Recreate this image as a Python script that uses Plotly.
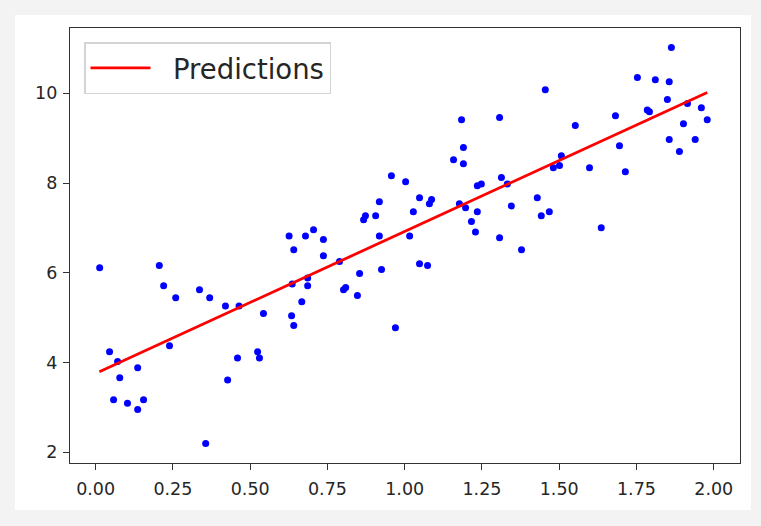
import plotly.graph_objects as go

# Scatter data
X = [0.013, 0.206, 0.220, 0.259, 0.336, 0.369, 0.420, 0.464, 0.543, 0.626,
     0.641, 0.679, 0.705, 0.737, 0.737, 0.636, 0.686, 0.686, 0.667, 0.634,
     0.641, 0.045, 0.071, 0.078, 0.136, 0.058, 0.103, 0.136, 0.155, 0.239,
     0.356, 0.427, 0.459, 0.524, 0.530, 0.789, 0.802, 0.809, 0.854, 0.847,
     0.925, 0.970, 0.867, 0.873, 0.906, 0.918, 0.957, 1.003, 0.918, 1.016,
     1.028, 1.048, 1.080, 1.087, 1.048, 1.074, 1.158, 1.190, 1.190, 1.177,
     1.197, 1.235, 1.216, 1.229, 1.235, 1.248, 1.313, 1.332, 1.345, 1.307,
     1.378, 1.184, 1.307, 1.455, 1.552, 1.507, 1.481, 1.501, 1.598, 1.682,
     1.695, 1.714, 1.636, 1.753, 1.811, 1.856, 1.863, 1.850, 1.785, 1.792,
     1.915, 1.960, 1.979, 1.902, 1.856, 1.940, 1.889, 1.429, 1.442, 1.468]
Y = [6.11, 6.16, 5.71, 5.44, 5.62, 5.44, 5.26, 5.26, 5.09, 6.82,
     6.51, 6.82, 6.96, 6.74, 6.38, 5.75, 5.71, 5.88, 5.35, 5.04,
     4.82, 4.24, 4.02, 3.66, 3.88, 3.17, 3.09, 2.95, 3.17, 4.37,
     2.19, 3.61, 4.10, 4.24, 4.10, 6.25, 5.62, 5.67, 5.98, 5.49,
     6.07, 4.77, 7.18, 7.27, 7.27, 7.58, 8.16, 8.03, 6.82, 6.82,
     7.36, 7.67, 7.54, 7.63, 6.20, 6.16, 8.52, 8.79, 8.43, 7.54,
     7.45, 7.36, 7.14, 6.91, 7.94, 7.98, 8.12, 7.98, 7.49, 6.78,
     6.51, 9.41, 9.46, 10.08, 9.28, 8.61, 8.34, 8.39, 8.34, 9.50,
     8.83, 8.25, 7.00, 10.35, 10.30, 10.26, 11.02, 9.86, 9.63, 9.59,
     9.77, 9.68, 9.41, 9.32, 8.97, 8.97, 8.70, 7.67, 7.27, 7.36]

# Prediction line (endpoints)
pred_x = [0.012, 1.979]
pred_y = [3.79, 10.02]

x_ticks = [0.0, 0.25, 0.5, 0.75, 1.0, 1.25, 1.5, 1.75, 2.0]
x_tick_labels = ["0.00", "0.25", "0.50", "0.75", "1.00", "1.25", "1.50", "1.75", "2.00"]
y_ticks = [2, 4, 6, 8, 10]
y_tick_labels = ["2", "4", "6", "8", "10"]

fig = go.Figure()
fig.add_trace(go.Scatter(x=X, y=Y, mode="markers", showlegend=False,
                         marker=dict(color="#0000ff", size=7, line=dict(width=0))))
fig.add_trace(go.Scatter(x=pred_x, y=pred_y, mode="lines",
                         name="\u00a0\u00a0Predictions",
                         line=dict(color="#ff0000", width=2.8)))

W, H = 761, 526
L, R, T, B = 70, 21, 28, 63
pw, ph = W - L - R, H - T - B

# white figure area on light-grey page
fig.add_shape(type="rect", xref="paper", yref="paper", layer="below",
              x0=(15 - L) / pw, x1=(751 - L) / pw,
              y0=(H - B - 510) / ph, y1=(H - B - 15) / ph,
              fillcolor="white", line=dict(width=0))

axis_common = dict(showgrid=False, zeroline=False, showline=True, mirror=True,
                   linecolor="#333333", linewidth=1.4, ticks="outside",
                   ticklen=6, tickwidth=1.4, tickcolor="#333333",
                   tickfont=dict(family="DejaVu Sans", size=17.5, color="#262626"))

fig.update_xaxes(range=[-0.083, 2.085], tickvals=x_ticks, ticktext=x_tick_labels,
                 ticklabelstandoff=4, **axis_common)
fig.update_yaxes(range=[1.757, 11.456], tickvals=y_ticks, ticktext=y_tick_labels,
                 ticklabelstandoff=2, **axis_common)

fig.update_layout(
    width=W, height=H,
    margin=dict(l=L, r=R, t=T, b=B, pad=0),
    paper_bgcolor="#f3f3f3", plot_bgcolor="white",
    font=dict(family="DejaVu Sans"),
    legend=dict(x=(84 - L) / pw, y=(H - B - 42) / ph, xanchor="left", yanchor="top",
                bgcolor="rgba(255,255,255,0.8)", bordercolor="#d4d4d4", borderwidth=1.5,
                font=dict(family="DejaVu Sans", size=27.5, color="#262626"),
                itemwidth=60),
)

fig.write_html("out.html", config={"displayModeBar": False},
               post_script="document.body.style.margin='0';document.body.style.padding='0';")
